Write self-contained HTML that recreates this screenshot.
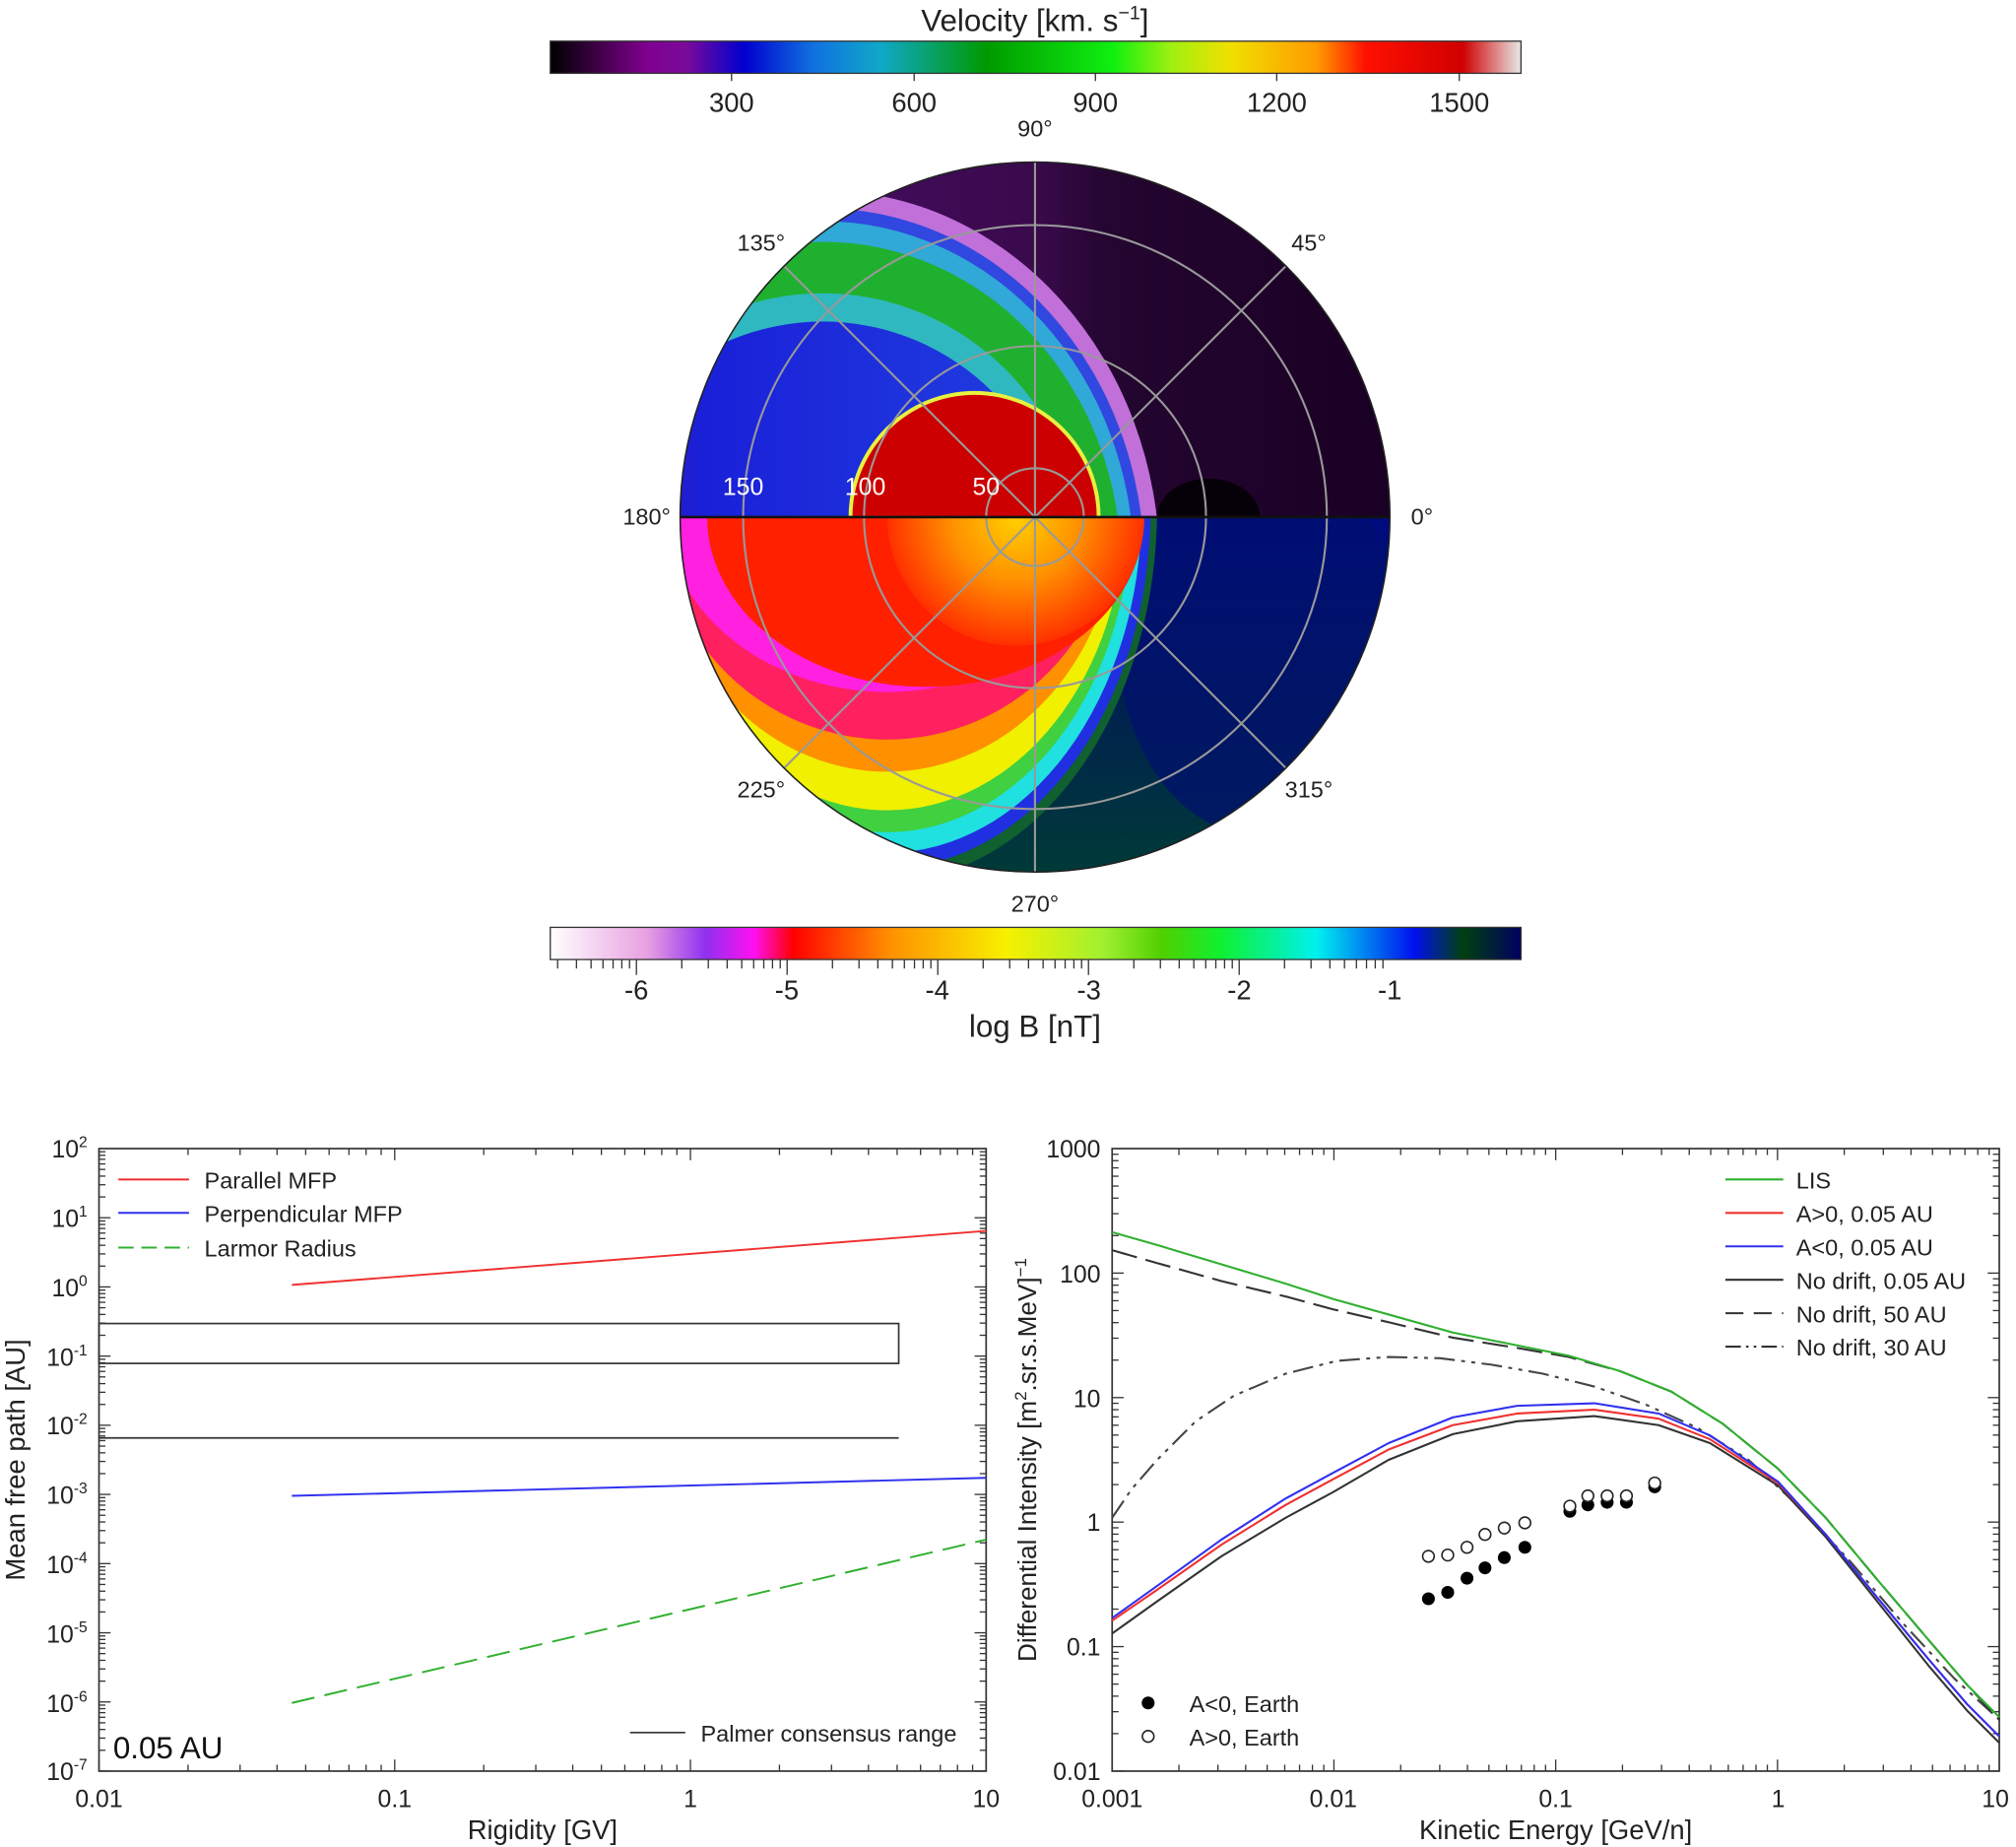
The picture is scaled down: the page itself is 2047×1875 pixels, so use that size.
<!DOCTYPE html>
<html><head><meta charset="utf-8"><style>
html,body{margin:0;padding:0;background:#fff}
svg{display:block}
text{font-family:"Liberation Sans",sans-serif}
</style></head><body>
<svg id="s" width="2047" height="1875" viewBox="0 0 1568 1436" preserveAspectRatio="none" xmlns="http://www.w3.org/2000/svg">
<defs>
<linearGradient id="cb1" x1="0" x2="1" y1="0" y2="0">
<stop offset="0" stop-color="#000"/><stop offset="0.1" stop-color="#800090"/><stop offset="0.14" stop-color="#7a0a9a"/><stop offset="0.2" stop-color="#0000d0"/><stop offset="0.27" stop-color="#1070e0"/><stop offset="0.34" stop-color="#10a8c8"/><stop offset="0.45" stop-color="#009a00"/><stop offset="0.58" stop-color="#10f010"/><stop offset="0.64" stop-color="#a0f010"/><stop offset="0.7" stop-color="#f0e000"/><stop offset="0.79" stop-color="#ff9a00"/><stop offset="0.84" stop-color="#ff1000"/><stop offset="0.94" stop-color="#d00000"/><stop offset="1" stop-color="#e8e8e8"/>
</linearGradient>
<linearGradient id="cb2" x1="0" x2="1" y1="0" y2="0">
<stop offset="0" stop-color="#fff"/><stop offset="0.1" stop-color="#e8a0e0"/><stop offset="0.16" stop-color="#9030f0"/><stop offset="0.21" stop-color="#ff10f0"/><stop offset="0.25" stop-color="#ff0000"/><stop offset="0.35" stop-color="#ff9000"/><stop offset="0.47" stop-color="#f8f000"/><stop offset="0.57" stop-color="#a0f030"/><stop offset="0.63" stop-color="#50d000"/><stop offset="0.69" stop-color="#10f030"/><stop offset="0.79" stop-color="#00f0f0"/><stop offset="0.89" stop-color="#0010f0"/><stop offset="0.94" stop-color="#004010"/><stop offset="1" stop-color="#000060"/>
</linearGradient>
<linearGradient id="upbg" x1="0" x2="1" y1="0" y2="0">
<stop offset="0" stop-color="#4a0c6a"/><stop offset="0.5" stop-color="#3a0a4c"/><stop offset="0.6" stop-color="#240630"/><stop offset="1" stop-color="#1a0024"/>
</linearGradient>
<linearGradient id="inblue" x1="0" x2="1" y1="0" y2="0">
<stop offset="0" stop-color="#4a10b0"/><stop offset="0.25" stop-color="#1a20d8"/><stop offset="1" stop-color="#2040e0"/>
</linearGradient>
<linearGradient id="lowbg" x1="0" x2="0" y1="0" y2="1">
<stop offset="0" stop-color="#000a80"/><stop offset="0.5" stop-color="#002050"/><stop offset="1" stop-color="#003a38"/>
</linearGradient>
<radialGradient id="ctr" cx="0.5" cy="0.5" r="0.5">
<stop offset="0" stop-color="#ffd000"/><stop offset="0.5" stop-color="#ff9000"/><stop offset="1" stop-color="#ff3000"/>
</radialGradient>
<clipPath id="up"><path d="M529,402 A276,276 0 0 1 1081,402 Z"/></clipPath>
<clipPath id="lo"><path d="M529,402 A276,276 0 0 0 1081,402 Z"/></clipPath>
</defs>

<!-- top colorbar -->
<text x="805" y="24" font-size="24" text-anchor="middle" fill="#222">Velocity [km. s<tspan dy="-9" font-size="15">−1</tspan><tspan dy="9">]</tspan></text>
<rect x="428" y="32" width="755" height="25" fill="url(#cb1)" stroke="#333" stroke-width="1"/>
<g stroke="#333" stroke-width="1"><line x1="569" y1="57" x2="569" y2="63"/><line x1="711" y1="57" x2="711" y2="63"/><line x1="852" y1="57" x2="852" y2="63"/><line x1="993" y1="57" x2="993" y2="63"/><line x1="1135" y1="57" x2="1135" y2="63"/></g>
<g font-size="21" text-anchor="middle" fill="#222"><text x="569" y="87">300</text><text x="711" y="87">600</text><text x="852" y="87">900</text><text x="993" y="87">1200</text><text x="1135" y="87">1500</text></g>

<!-- polar -->
<g clip-path="url(#up)">
<rect x="529" y="126" width="552" height="276" fill="url(#upbg)"/>
<ellipse cx="640" cy="440" rx="262" ry="292" fill="#c070d8"/>
<ellipse cx="640" cy="440" rx="250" ry="278" fill="#3048e0"/>
<ellipse cx="640" cy="440" rx="242" ry="268" fill="#30a8d8"/>
<ellipse cx="640" cy="440" rx="232" ry="252" fill="#20b030"/>
<ellipse cx="640" cy="440" rx="205" ry="212" fill="#30b8c0"/>
<ellipse cx="640" cy="440" rx="188" ry="190" fill="url(#inblue)"/>
<circle cx="758" cy="402" r="98" fill="#e8f040"/>
<circle cx="758" cy="402" r="95" fill="#cc0000"/>
<ellipse cx="940" cy="402" rx="40" ry="30" fill="#000" opacity="0.8"/>
</g>
<g clip-path="url(#lo)">
<rect x="529" y="402" width="552" height="276" fill="url(#lowbg)"/>
<ellipse cx="980" cy="500" rx="110" ry="150" fill="#001070" opacity="0.7"/>
<ellipse cx="690" cy="395" rx="210" ry="290" fill="#106030"/>
<ellipse cx="690" cy="395" rx="205" ry="280" fill="#2030e0"/>
<ellipse cx="690" cy="395" rx="198" ry="268" fill="#20e0e0"/>
<ellipse cx="690" cy="395" rx="190" ry="252" fill="#40d040"/>
<ellipse cx="690" cy="395" rx="185" ry="235" fill="#f0f000"/>
<ellipse cx="690" cy="395" rx="180" ry="205" fill="#ff9000"/>
<ellipse cx="690" cy="395" rx="178" ry="180" fill="#ff2060"/>
<ellipse cx="690" cy="390" rx="175" ry="148" fill="#ff20e0"/>
<ellipse cx="720" cy="402" rx="170" ry="132" fill="#ff2000"/>
<circle cx="790" cy="402" r="100" fill="url(#ctr)"/>
</g>
<g fill="none" stroke="#999" stroke-width="1.6">
<circle cx="805" cy="402" r="38"/><circle cx="805" cy="402" r="133"/><circle cx="805" cy="402" r="227"/>
<line x1="805" y1="126" x2="805" y2="678"/>
<line x1="610" y1="207" x2="1000" y2="597"/><line x1="1000" y1="207" x2="610" y2="597"/>
</g>
<line x1="529" y1="402" x2="1081" y2="402" stroke="#111" stroke-width="2"/>
<circle cx="805" cy="402" r="276" fill="none" stroke="#222" stroke-width="1.2"/>
<g font-size="19" fill="#fff" text-anchor="middle"><text x="578" y="385">150</text><text x="673" y="385">100</text><text x="767" y="385">50</text></g>
<g font-size="18" fill="#222" text-anchor="middle">
<text x="805" y="106">90°</text><text x="592" y="195">135°</text><text x="1018" y="195">45°</text>
<text x="503" y="408">180°</text><text x="1106" y="408">0°</text>
<text x="592" y="620">225°</text><text x="1018" y="620">315°</text><text x="805" y="709">270°</text></g>

<!-- bottom colorbar -->
<rect x="428" y="721" width="755" height="25" fill="url(#cb2)" stroke="#333" stroke-width="1"/>
<g id="cb2t" stroke="#333" stroke-width="1"></g>
<g font-size="21" text-anchor="middle" fill="#222"><text x="495" y="777">-6</text><text x="612" y="777">-5</text><text x="729" y="777">-4</text><text x="847" y="777">-3</text><text x="964" y="777">-2</text><text x="1081" y="777">-1</text></g>
<text x="805" y="806" font-size="24" text-anchor="middle" fill="#222">log B [nT]</text>

<!-- left plot -->
<g id="lt" stroke="#333" stroke-width="1"></g>
<rect x="77" y="893" width="690" height="484" fill="none" stroke="#333" stroke-width="1.3"/>
<rect x="77" y="1029" width="622" height="31" fill="none" stroke="#333" stroke-width="1.3"/>
<line x1="77" y1="1118" x2="699" y2="1118" stroke="#333" stroke-width="1.3"/>
<line x1="227" y1="999" x2="767" y2="957" stroke="#f03030" stroke-width="1.5"/>
<line x1="227" y1="1163" x2="767" y2="1149" stroke="#3030f0" stroke-width="1.5"/>
<line x1="227" y1="1324" x2="767" y2="1197" stroke="#30b030" stroke-width="1.5" stroke-dasharray="18,8"/>
<line x1="92" y1="917" x2="147" y2="917" stroke="#f03030" stroke-width="1.5"/>
<line x1="92" y1="943" x2="147" y2="943" stroke="#3030f0" stroke-width="1.5"/>
<line x1="92" y1="970" x2="147" y2="970" stroke="#30b030" stroke-width="1.5" stroke-dasharray="12,6"/>
<g font-size="18" fill="#222"><text x="159" y="924">Parallel MFP</text><text x="159" y="950">Perpendicular MFP</text><text x="159" y="977">Larmor Radius</text>
<text x="545" y="1354">Palmer consensus range</text></g>
<line x1="490" y1="1347" x2="533" y2="1347" stroke="#333" stroke-width="1.3"/>
<text x="88" y="1367" font-size="24" fill="#111">0.05 AU</text>
<g font-size="19" fill="#222" text-anchor="end">
<text x="68" y="900">10<tspan dy="-8" font-size="12">2</tspan></text>
<text x="68" y="954">10<tspan dy="-8" font-size="12">1</tspan></text>
<text x="68" y="1008">10<tspan dy="-8" font-size="12">0</tspan></text>
<text x="68" y="1062">10<tspan dy="-8" font-size="12">-1</tspan></text>
<text x="68" y="1115">10<tspan dy="-8" font-size="12">-2</tspan></text>
<text x="68" y="1169">10<tspan dy="-8" font-size="12">-3</tspan></text>
<text x="68" y="1223">10<tspan dy="-8" font-size="12">-4</tspan></text>
<text x="68" y="1277">10<tspan dy="-8" font-size="12">-5</tspan></text>
<text x="68" y="1331">10<tspan dy="-8" font-size="12">-6</tspan></text>
<text x="68" y="1384">10<tspan dy="-8" font-size="12">-7</tspan></text></g>
<g font-size="19" fill="#222" text-anchor="middle"><text x="77" y="1405">0.01</text><text x="307" y="1405">0.1</text><text x="537" y="1405">1</text><text x="767" y="1405">10</text></g>
<text x="422" y="1430" font-size="21" text-anchor="middle" fill="#222">Rigidity [GV]</text>
<text transform="translate(19,1135) rotate(-90)" font-size="21" text-anchor="middle" fill="#222">Mean free path [AU]</text>

<!-- right plot -->
<g id="rt" stroke="#333" stroke-width="1"></g>
<rect x="865" y="893" width="690" height="484" fill="none" stroke="#333" stroke-width="1.3"/>
<g fill="none" stroke-width="1.6" stroke-linejoin="round">
<polyline points="865,1180 880,1158 900,1135 930,1105 960,1085 1000,1068 1040,1058 1080,1055 1120,1056 1160,1061 1200,1068 1240,1078 1280,1092 1320,1110 1360,1135 1400,1172 1440,1215 1480,1262 1520,1305 1555,1337" stroke="#444" stroke-dasharray="16,5,3,5,3,5"/>
<polyline points="865,972 900,982 950,996 1000,1008 1037,1018 1080,1028 1130,1040 1180,1048 1220,1055 1260,1066 1300,1082 1340,1107 1383,1142 1420,1180 1460,1228 1500,1275 1530,1310 1555,1337" stroke="#333" stroke-dasharray="20,7"/>
<polyline points="865,958 900,968 950,983 1000,998 1037,1010 1080,1022 1130,1036 1180,1046 1220,1054 1260,1066 1300,1082 1340,1107 1383,1142 1420,1180 1460,1228 1500,1275 1530,1310 1555,1335" stroke="#30b030"/>
<polyline points="865,1270 900,1245 950,1210 1000,1180 1037,1160 1080,1135 1130,1115 1180,1105 1240,1101 1290,1108 1330,1122 1383,1155 1420,1195 1460,1245 1500,1295 1530,1330 1555,1355" stroke="#333"/>
<polyline points="865,1260 900,1236 950,1201 1000,1170 1037,1150 1080,1127 1130,1108 1180,1099 1240,1096 1290,1103 1330,1119 1383,1153 1420,1193 1460,1242 1500,1290 1530,1325 1555,1350" stroke="#f03030"/>
<polyline points="865,1258 900,1233 950,1197 1000,1165 1037,1145 1080,1122 1130,1102 1180,1093 1240,1091 1290,1099 1330,1116 1383,1152 1420,1193 1460,1242 1500,1290 1530,1325 1555,1350" stroke="#3030f0"/>
</g>
<g fill="#000">
<circle cx="1111" cy="1243" r="5"/><circle cx="1126" cy="1238" r="5"/><circle cx="1141" cy="1227" r="5"/><circle cx="1155" cy="1219" r="5"/><circle cx="1170" cy="1211" r="5"/><circle cx="1186" cy="1203" r="5"/><circle cx="1221" cy="1175" r="5"/><circle cx="1235" cy="1170" r="5"/><circle cx="1250" cy="1168" r="5"/><circle cx="1265" cy="1168" r="5"/><circle cx="1287" cy="1156" r="5"/>
<circle cx="893" cy="1324" r="5"/></g>
<g fill="#fff" stroke="#222" stroke-width="1.2">
<circle cx="1111" cy="1210" r="4.5"/><circle cx="1126" cy="1209" r="4.5"/><circle cx="1141" cy="1203" r="4.5"/><circle cx="1155" cy="1193" r="4.5"/><circle cx="1170" cy="1188" r="4.5"/><circle cx="1186" cy="1184" r="4.5"/><circle cx="1221" cy="1171" r="4.5"/><circle cx="1235" cy="1163" r="4.5"/><circle cx="1250" cy="1163" r="4.5"/><circle cx="1265" cy="1163" r="4.5"/><circle cx="1287" cy="1153" r="4.5"/>
<circle cx="893" cy="1350" r="4.5"/></g>
<g stroke-width="1.6">
<line x1="1342" y1="917" x2="1387" y2="917" stroke="#30b030"/>
<line x1="1342" y1="943" x2="1387" y2="943" stroke="#f03030"/>
<line x1="1342" y1="969" x2="1387" y2="969" stroke="#3030f0"/>
<line x1="1342" y1="995" x2="1387" y2="995" stroke="#333"/>
<line x1="1342" y1="1021" x2="1387" y2="1021" stroke="#333" stroke-dasharray="14,8"/>
<line x1="1342" y1="1047" x2="1387" y2="1047" stroke="#333" stroke-dasharray="12,4,2,4,2,4"/></g>
<g font-size="18" fill="#222"><text x="1397" y="924">LIS</text><text x="1397" y="950">A&gt;0, 0.05 AU</text><text x="1397" y="976">A&lt;0, 0.05 AU</text><text x="1397" y="1002">No drift, 0.05 AU</text><text x="1397" y="1028">No drift, 50 AU</text><text x="1397" y="1054">No drift, 30 AU</text>
<text x="925" y="1331">A&lt;0, Earth</text><text x="925" y="1357">A&gt;0, Earth</text></g>
<g font-size="19" fill="#222" text-anchor="end"><text x="856" y="900">1000</text><text x="856" y="997">100</text><text x="856" y="1094">10</text><text x="856" y="1190">1</text><text x="856" y="1287">0.1</text><text x="856" y="1384">0.01</text></g>
<g font-size="19" fill="#222" text-anchor="middle"><text x="865" y="1405">0.001</text><text x="1037" y="1405">0.01</text><text x="1210" y="1405">0.1</text><text x="1383" y="1405">1</text><text x="1552" y="1405">10</text></g>
<text x="1210" y="1430" font-size="21" text-anchor="middle" fill="#222">Kinetic Energy [GeV/n]</text>
<text transform="translate(806,1135) rotate(-90)" font-size="20" text-anchor="middle" fill="#222">Differential Intensity [m<tspan dy="-8" font-size="13">2</tspan><tspan dy="8">.sr.s.MeV]</tspan><tspan dy="-8" font-size="13">−1</tspan></text>
</svg>
<script>
(function(){
var NS="http://www.w3.org/2000/svg";
function L(g,x1,y1,x2,y2){var l=document.createElementNS(NS,"line");l.setAttribute("x1",x1);l.setAttribute("y1",y1);l.setAttribute("x2",x2);l.setAttribute("y2",y2);g.appendChild(l);}
function axes(id,x0,x1,nx,y0,y1,ny){var g=document.getElementById(id);var dx=(x1-x0)/nx,dy=(y1-y0)/ny;
for(var d=0;d<nx;d++)for(var k=1;k<10;k++){var x=x0+dx*(d+Math.log10(k));var len=k==1?9:5;L(g,x,y1,x,y1-len);L(g,x,y0,x,y0+len);}
for(var d=0;d<ny;d++)for(var k=1;k<10;k++){var y=y1-dy*(d+Math.log10(k));var len=k==1?9:5;L(g,x0,y,x0+len,y);L(g,x1,y,x1-len,y);}}
axes("lt",77,767,3,893,1377,9);axes("rt",865,1555,4,893,1377,5);
var g=document.getElementById("cb2t");var w=117.2;
for(var d=-7;d<0;d++)for(var k=1;k<10;k++){var x=1081+w*(d+1+Math.log10(k)-1);var len=k==1?12:7;if(x>=429&&x<=1183)L(g,x,746,x,746+len);}
})();
</script>
</body></html>
